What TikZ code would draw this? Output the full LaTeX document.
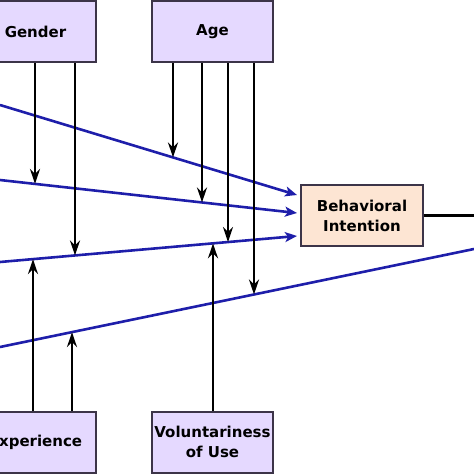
\documentclass[tikz,border=0pt]{standalone}
\usepackage{fontspec}
\setmainfont{DejaVu Sans}
\usetikzlibrary{arrows.meta,calc}
\definecolor{lav}{RGB}{229,217,255}
\definecolor{peach}{RGB}{253,229,211}
\definecolor{bord}{RGB}{60,52,72}
\definecolor{path}{RGB}{30,30,170}
\begin{document}
\begin{tikzpicture}[x=1pt,y=-1pt,
  box/.style={draw=bord,line width=2pt,inner sep=0pt,minimum width=121pt,minimum height=61pt,
    font=\fontsize{15}{20}\selectfont\bfseries,text=black,align=center},
  modbox/.style={box,fill=lav},
  bibox/.style={box,fill=peach},
  mod/.style={line width=2.6pt,-{Stealth[length=15pt,width=10pt,inset=5pt]}},
  pth/.style={draw=path,line width=2.6pt},
  parrow/.style={pth,-{Stealth[open,length=12pt,width=10pt,inset=3pt]}},
  plain/.style={line width=2.4pt}]
\useasboundingbox (0,0) rectangle (474,474);
\node[modbox] (gender) at (35.5,31.5) {Gender};
\node[modbox] (age) at (212.5,31.5) {Age};
\node[modbox] (exp) at (35.5,442) {Experience};
\node[modbox] (vol) at (212.5,442) {Voluntariness\\of Use};
\node[bibox,minimum width=122pt] (bi) at (362,215.5) {Behavioral\\Intention};
% free ends of paths
\coordinate (s1) at (0,105);
\coordinate (e1) at (297,195);
\coordinate (s2) at (0,180);
\coordinate (e2) at (297,213);
\coordinate (s3) at (0,262);
\coordinate (e3) at (297,236);
\coordinate (s4) at (0,347);
\coordinate (e4) at (474,249);
\coordinate (out) at (474,215.5);
% points on paths
\coordinate (a1) at ($(s1)!173/297!(e1)$);
\coordinate (a2) at ($(s2)!202/297!(e2)$);
\coordinate (a3) at ($(s3)!228/297!(e3)$);
\coordinate (a4) at ($(s4)!254/474!(e4)$);
\coordinate (g1) at ($(s2)!35/297!(e2)$);
\coordinate (g2) at ($(s3)!75/297!(e3)$);
\coordinate (x1) at ($(s3)!33/297!(e3)$);
\coordinate (x2) at ($(s4)!72/474!(e4)$);
\coordinate (v1) at ($(s3)!213/297!(e3)$);
% paths
\draw[parrow] (s1) -- (e1);
\draw[parrow] (s2) -- (e2);
\draw[parrow] (s3) -- (e3);
\draw[pth] (s4) -- (e4);
\draw[plain] (bi.east) -- (out);
% moderators
\draw[mod] (gender.south -| g1) -- (g1);
\draw[mod] (gender.south -| g2) -- (g2);
\draw[mod] (age.south -| a1) -- (a1);
\draw[mod] (age.south -| a2) -- (a2);
\draw[mod] (age.south -| a3) -- (a3);
\draw[mod] (age.south -| a4) -- (a4);
\draw[mod] (exp.north -| x1) -- (x1);
\draw[mod] (exp.north -| x2) -- (x2);
\draw[mod] (vol.north -| v1) -- (v1);
\end{tikzpicture}
\end{document}
